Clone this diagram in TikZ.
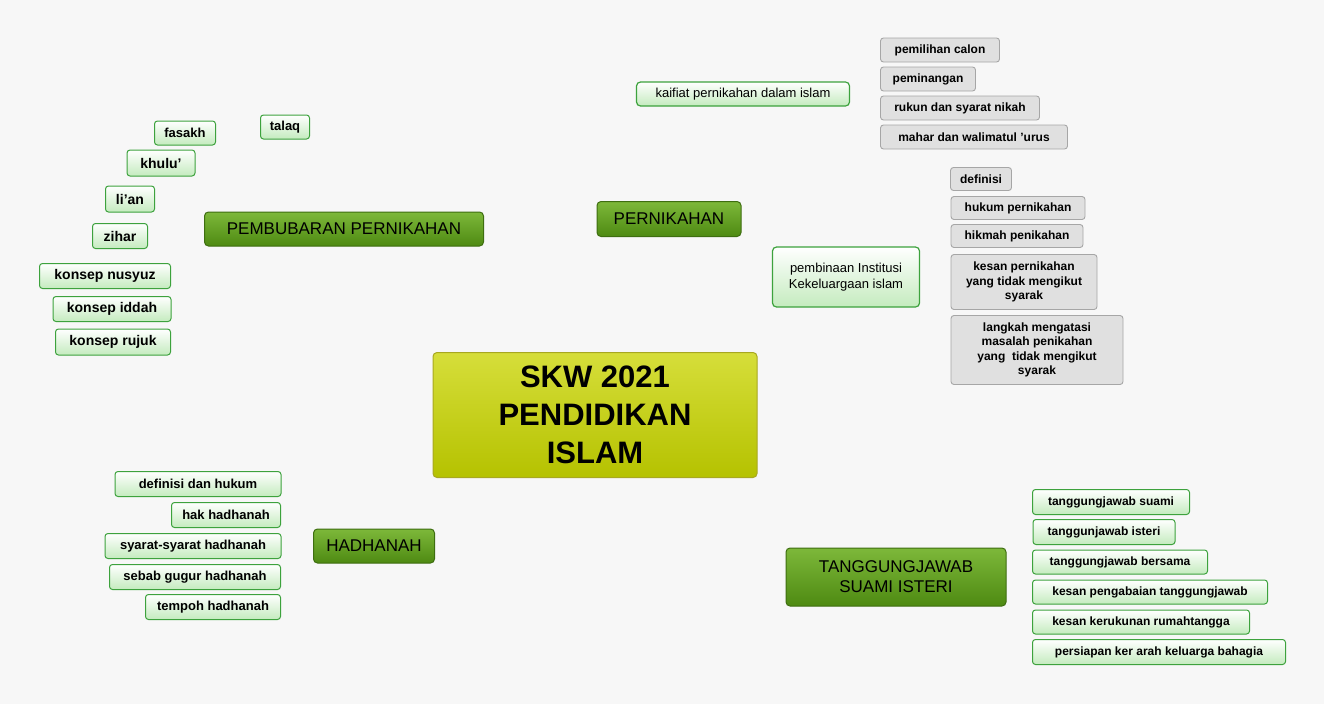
\documentclass[tikz,border=0pt]{standalone}
\usepackage{fontspec}
\setmainfont{Liberation Sans}
\usetikzlibrary{backgrounds}
\definecolor{brtop}{HTML}{7DB83A}
\definecolor{brbot}{HTML}{4E8A12}
\definecolor{brdr}{HTML}{3E6E10}
\definecolor{ctop}{HTML}{D6DE3A}
\definecolor{cbot}{HTML}{B5C200}
\definecolor{cdr}{HTML}{A8A820}
\definecolor{lgbot}{HTML}{C4EBBE}
\definecolor{lgdr}{HTML}{3DA23D}
\begin{document}
\begin{tikzpicture}[x=1pt,y=-1pt,
 conn/.style={draw=black!38,line width=0.9pt},
 leafg/.style={draw=lgdr,line width=1pt,rounded corners=3pt,top color=white,bottom color=lgbot,font=\fontsize{13}{15}\selectfont\bfseries,inner sep=0pt,align=center},
 leafy/.style={draw=black!35,line width=0.9pt,rounded corners=3pt,fill=black!12,font=\fontsize{12}{14.5}\selectfont\bfseries,inner sep=0pt,align=center},
 branch/.style={draw=brdr,line width=1pt,rounded corners=4pt,top color=brtop,bottom color=brbot,font=\fontsize{17}{20}\selectfont,inner sep=0pt,align=center},
 sub/.style={draw=lgdr,line width=1.2pt,rounded corners=4pt,top color=white,bottom color=lgbot,font=\fontsize{13}{16}\selectfont,inner sep=0pt,align=center}]
\useasboundingbox (0,0) rectangle (1324,704);
\fill[white!97!black] (0,0) rectangle (1324,704);
% center
\node[draw=cdr,line width=1pt,rounded corners=4pt,top color=ctop,bottom color=cbot,minimum width=324pt,minimum height=125pt,font=\fontsize{31}{38}\selectfont\bfseries,align=center] (c) at (595,415) {SKW 2021\\PENDIDIKAN\\ISLAM};
% branches
\node[branch,minimum width=144pt,minimum height=35pt] (per) at (669,219) {PERNIKAHAN};
\node[branch,minimum width=279pt,minimum height=34pt] (pem) at (344,229) {PEMBUBARAN PERNIKAHAN};
\node[branch,minimum width=121pt,minimum height=34pt] (had) at (374,546) {HADHANAH};
\node[branch,minimum width=220pt,minimum height=58pt] (tan) at (896,577) {TANGGUNGJAWAB\\SUAMI ISTERI};
\node[sub,minimum width=213pt,minimum height=24pt] (kai) at (743,94) {kaifiat pernikahan dalam islam};
\node[sub,minimum width=147pt,minimum height=60pt] (pbn) at (846,277) {pembinaan Institusi\\Kekeluargaan islam};
% grey leaves
\node[leafy,minimum width=119pt,minimum height=24pt] (g1) at (940,50) {pemilihan calon};
\node[leafy,minimum width=95pt,minimum height=24pt] (g2) at (928,79) {peminangan};
\node[leafy,minimum width=159pt,minimum height=24pt] (g3) at (960,108) {rukun dan syarat nikah};
\node[leafy,minimum width=187pt,minimum height=24pt] (g4) at (974,137) {mahar dan walimatul 'urus};
\node[leafy,minimum width=61pt,minimum height=23pt] (h1) at (981,179) {definisi};
\node[leafy,minimum width=134pt,minimum height=23pt] (h2) at (1018,208) {hukum pernikahan};
\node[leafy,minimum width=132pt,minimum height=23pt] (h3) at (1017,236) {hikmah penikahan};
\node[leafy,minimum width=146pt,minimum height=55pt] (h4) at (1024,282) {kesan pernikahan\\yang tidak mengikut\\syarak};
\node[leafy,minimum width=172pt,minimum height=69pt] (h5) at (1037,350) {langkah mengatasi\\masalah penikahan\\yang\ \ tidak mengikut\\syarak};
% left leaves
\node[leafg,minimum width=49pt,minimum height=24pt] (l1) at (285,127) {talaq};
\node[leafg,minimum width=61pt,minimum height=24pt] (l2) at (185,133) {fasakh};
\node[leafg,minimum width=68pt,minimum height=26pt,font=\fontsize{14}{16}\selectfont\bfseries] (l3) at (161,163) {khulu'};
\node[leafg,minimum width=49pt,minimum height=26pt,font=\fontsize{14}{16}\selectfont\bfseries] (l4) at (130,199) {li'an};
\node[leafg,minimum width=55pt,minimum height=25pt,font=\fontsize{14}{16}\selectfont\bfseries] (l5) at (120,236) {zihar};
\node[leafg,minimum width=131pt,minimum height=25pt,font=\fontsize{14}{16}\selectfont\bfseries] (l6) at (105,276) {konsep nusyuz};
\node[leafg,minimum width=118pt,minimum height=25pt,font=\fontsize{14}{16}\selectfont\bfseries] (l7) at (112,309) {konsep iddah};
\node[leafg,minimum width=115pt,minimum height=26pt,font=\fontsize{14}{16}\selectfont\bfseries] (l8) at (113,342) {konsep rujuk};
% hadhanah leaves
\node[leafg,minimum width=166pt,minimum height=25pt] (d1) at (198,484) {definisi dan hukum};
\node[leafg,minimum width=109pt,minimum height=25pt] (d2) at (226,515) {hak hadhanah};
\node[leafg,minimum width=176pt,minimum height=25pt] (d3) at (193,546) {syarat-syarat hadhanah};
\node[leafg,minimum width=171pt,minimum height=25pt] (d4) at (195,577) {sebab gugur hadhanah};
\node[leafg,minimum width=135pt,minimum height=25pt] (d5) at (213,607) {tempoh hadhanah};
% tanggungjawab leaves
\node[leafg,minimum width=157pt,minimum height=25pt,font=\fontsize{12}{14}\selectfont\bfseries] (t1) at (1111,502) {tanggungjawab suami};
\node[leafg,minimum width=142pt,minimum height=25pt,font=\fontsize{12}{14}\selectfont\bfseries] (t2) at (1104,532) {tanggunjawab isteri};
\node[leafg,minimum width=175pt,minimum height=24pt,font=\fontsize{12}{14}\selectfont\bfseries] (t3) at (1120,562) {tanggungjawab bersama};
\node[leafg,minimum width=235pt,minimum height=24pt,font=\fontsize{12}{14}\selectfont\bfseries] (t4) at (1150,592) {kesan pengabaian tanggungjawab};
\node[leafg,minimum width=217pt,minimum height=24pt,font=\fontsize{12}{14}\selectfont\bfseries] (t5) at (1141,622) {kesan kerukunan rumahtangga};
\node[leafg,minimum width=253pt,minimum height=25pt,font=\fontsize{12}{14}\selectfont\bfseries] (t6) at (1159,652) {persiapan ker arah keluarga bahagia};
% hubs
\coordinate (hk) at (752,100);
\coordinate (hl) at (340,222);
\coordinate (hh) at (372,546);
\coordinate (ht) at (900,577);
\coordinate (cp1) at (585,353);
\coordinate (cp2) at (600,353);
\coordinate (cp3) at (575,478);
\coordinate (cp4) at (612,478);
\coordinate (pa) at (670,202);
\coordinate (pb) at (700,237);
\coordinate (ka) at (690,106);
\begin{pgfonlayer}{background}
\fill[white!97!black] (0,0) rectangle (1324,704);
\draw[conn] (cp1) to[out=100,in=-35] (pem.south east);
\draw[conn] (cp2) to[out=90,in=-100] (per.south west);
\draw[conn] (cp3) to[out=-110,in=0] (had.east);
\draw[conn] (cp4) to[out=-70,in=180] (tan.west);
\draw[conn] (pa) to[out=100,in=-100] (ka);
\draw[conn] (pb) to[out=-70,in=180] (pbn.west);
\foreach \n in {g1,g2,g3,g4} \draw[conn] (hk) to[out=90,in=180] (\n.west);
\foreach \n in {h1,h2,h3,h4} \draw[conn] (pbn.north) to[out=60,in=180] (\n.west);
\draw[conn] (pbn.south) to[out=-60,in=180] (h5.west);
\foreach \n in {l1,l2,l3,l4,l5,l6,l7,l8} \draw[conn] (hl) to[out=120,in=0] (\n.east);
\foreach \n in {d1,d2,d3,d4,d5} \draw[conn] (hh) to[out=180,in=0] (\n.east);
\foreach \n in {t1,t2,t3,t4,t5,t6} \draw[conn] (ht) to[out=0,in=180] (\n.west);
\end{pgfonlayer}
\end{tikzpicture}
\end{document}
